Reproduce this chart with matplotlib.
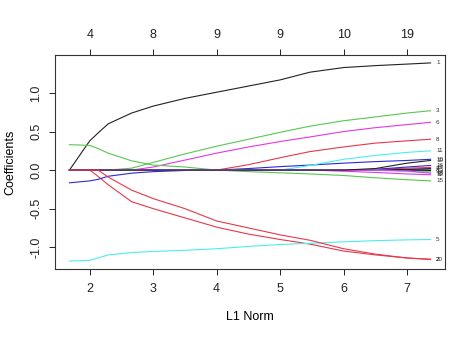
import numpy as np
import matplotlib
matplotlib.use("Agg")
import matplotlib.pyplot as plt

plt.rcParams['font.family'] = ['Liberation Sans', 'DejaVu Sans']

# L1 norm of the coefficient vector along the lambda path
l1_norm = [1.68, 2.0, 2.13, 2.29, 2.66, 3.0, 3.5, 4.0, 4.5, 5.0, 5.47, 6.0, 6.5, 7.0, 7.37]

# coefficient paths, one list per variable (index = variable number)
coefs = {
    1:  [0, 0.38, 0.48, 0.60, 0.74, 0.83, 0.93, 1.01, 1.09, 1.17, 1.27, 1.33, 1.355, 1.375, 1.39],
    2:  [0, 0, -0.08, -0.19, -0.41, -0.50, -0.62, -0.74, -0.83, -0.90, -0.96, -1.05, -1.10, -1.14, -1.155],
    3:  [0, 0, 0, 0, 0.025, 0.10, 0.21, 0.31, 0.40, 0.49, 0.57, 0.64, 0.69, 0.74, 0.77],
    4:  [0, 0, 0, 0, 0, 0, 0, 0, 0, 0, 0, 0, 0, 0.01, 0.02],
    5:  [-1.18, -1.17, -1.14, -1.10, -1.07, -1.055, -1.04, -1.02, -0.99, -0.965, -0.95, -0.93, -0.915, -0.905, -0.90],
    6:  [0, 0, 0, 0, 0, 0.04, 0.13, 0.22, 0.30, 0.37, 0.43, 0.50, 0.55, 0.59, 0.62],
    7:  [0, 0, 0, 0, 0, 0, 0, 0, 0, 0, 0, 0, 0, 0.01, 0.015],
    8:  [0, 0, 0, 0, 0, 0, 0, 0, 0.07, 0.16, 0.24, 0.30, 0.35, 0.38, 0.40],
    9:  [0, 0, 0, 0, 0, 0, 0, 0, 0, 0, 0, 0, 0, -0.01, -0.015],
    10: [-0.165, -0.14, -0.12, -0.08, -0.04, -0.02, -0.005, 0.0, 0.02, 0.045, 0.065, 0.09, 0.11, 0.125, 0.14],
    11: [0, 0, 0, 0, 0, 0, 0, 0, 0, 0, 0.06, 0.14, 0.19, 0.23, 0.25],
    12: [0, 0, 0, 0, 0, 0, 0, 0, 0, 0, 0, -0.015, -0.03, -0.05, -0.06],
    13: [0, 0, 0, 0, 0, 0, 0, 0, 0, 0, 0, 0, 0, 0, -0.005],
    14: [0, 0, 0, 0, 0, 0, 0, 0, 0, 0, 0, 0, 0.01, 0.025, 0.035],
    15: [0.33, 0.32, 0.28, 0.22, 0.12, 0.065, 0.04, 0.0, -0.02, -0.035, -0.05, -0.07, -0.10, -0.125, -0.14],
    16: [0, 0, 0, 0, 0, 0, 0, 0, 0, 0, 0, 0, 0.01, 0.04, 0.06],
    17: [0, 0, 0, 0, 0, 0, 0, 0, 0, 0, 0, 0, 0, -0.02, -0.035],
    18: [0, 0, 0, 0, 0, 0, 0, 0, 0, 0, 0, 0, 0, -0.01, -0.04],
    19: [0, 0, 0, 0, 0, 0, 0, 0, 0, 0, 0, 0, 0.02, 0.09, 0.125],
    20: [0, 0, 0, -0.09, -0.26, -0.37, -0.50, -0.66, -0.75, -0.84, -0.91, -1.02, -1.09, -1.14, -1.16],
}

# degrees of freedom shown on the top axis
df_ticks = [2, 3, 4, 5, 6, 7]
df_labels = ['4', '8', '9', '9', '10', '19']

# matplot-style colour cycle
palette = ['#222222', '#E8374C', '#58C84E', '#2A2AD6', '#4CEDEE', '#E537E5']

fig = plt.figure(figsize=(4.74, 3.38), dpi=100)
ax = fig.add_axes([55 / 474, 1 - 269 / 338, 390 / 474, 214 / 338])

for i, vals in coefs.items():
    ax.plot(l1_norm, vals, color=palette[(i - 1) % 6], lw=0.8)

# variable numbers at the end of each path
for i, vals in coefs.items():
    ax.annotate(str(i), (l1_norm[-1], vals[-1]), xytext=(4, 0), textcoords='offset points',
                ha='left', va='center', fontsize=4.5, color='#333333', annotation_clip=False)

ax.margins(x=0.04, y=0.04)

ax.set_xticks([2, 3, 4, 5, 6, 7])
ax.set_yticks([-1.0, -0.5, 0.0, 0.5, 1.0])
ax.set_yticklabels(['-1.0', '-0.5', '0.0', '0.5', '1.0'], rotation=90, va='center')
ax.tick_params(direction='out', length=4.3, width=0.7, labelsize=9, pad=6, colors='#222222')
ax.tick_params(axis='y', pad=5)

top = ax.secondary_xaxis('top')
top.set_xticks(df_ticks, labels=df_labels)
top.tick_params(direction='out', length=4.3, width=0.7, labelsize=9, pad=6, colors='#222222')
top.spines['top'].set_visible(False)

for s in ax.spines.values():
    s.set_linewidth(0.8)
    s.set_color('#333333')

ax.set_xlabel('L1 Norm', fontsize=9)
ax.xaxis.set_label_coords(0.5, -0.223)
ax.xaxis.label.set_va('center')
ax.set_ylabel('Coefficients', fontsize=9)
ax.yaxis.set_label_coords(-0.115, 0.5)
ax.yaxis.label.set_va('center')

fig.savefig('out.png', dpi=100)
